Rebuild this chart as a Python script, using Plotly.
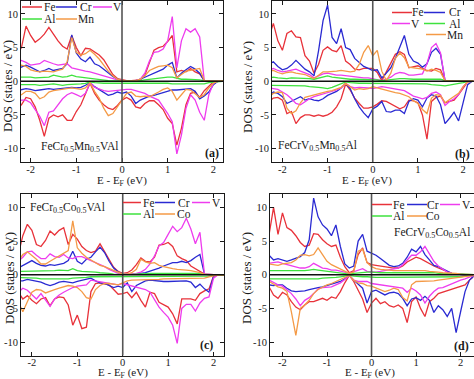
import plotly.graph_objects as go

W, H = 474, 379

# Energy grid (E - E_F, eV)
E = [-2.3, -2.2, -2.1, -2.0, -1.9, -1.8, -1.7, -1.6, -1.5, -1.4,
     -1.3, -1.2, -1.1, -1.0, -0.9, -0.8, -0.7, -0.6, -0.5, -0.4,
     -0.3, -0.2, -0.1, 0.0, 0.1, 0.2, 0.3, 0.4, 0.5, 0.6,
     0.7, 0.8, 0.9, 1.0, 1.1, 1.2, 1.3, 1.4, 1.5, 1.6,
     1.7, 1.8, 1.9, 2.0, 2.1, 2.2, 2.3]

# ---------------- (a) FeCr0.5Mn0.5VAl ----------------
a_fe_up = [4.0, 5.0, 8.2, 6.8, 5.8, 6.3, 7.0, 8.0, 7.0, 6.0,
           5.2, 4.8, 6.8, 5.0, 3.8, 4.9, 4.8, 4.3, 3.9, 3.2,
           2.0, 1.0, 0.4, 0.2, 0.1, 0.1, 0.1, 0.2, 0.9, 2.8,
           4.6, 5.0, 5.2, 5.9, 6.8, 1.4, 1.6, 1.4, 1.9, 1.4,
           1.1, 0.1, 0.05, 0.0, 0.0, 0.0, 0.0]
a_cr_up = [1.8, 2.1, 2.4, 2.1, 1.7, 1.4, 1.6, 1.9, 1.6, 1.7,
           1.9, 2.6, 6.9, 4.2, 3.3, 2.9, 3.6, 2.6, 2.3, 1.8,
           1.2, 0.7, 0.3, 0.1, 0.05, 0.05, 0.1, 0.3, 0.6, 0.9,
           1.2, 1.5, 1.8, 2.4, 2.8, 0.5, 1.2, 1.7, 2.2, 1.8,
           1.2, 0.05, 0.0, 0.0, 0.0, 0.0, 0.0]
a_v_up = [2.6, 3.1, 2.8, 2.4, 2.5, 2.6, 3.1, 2.8, 2.6, 2.4,
          2.5, 2.6, 2.0, 1.8, 1.7, 1.5, 1.4, 1.2, 0.9, 0.7,
          0.5, 0.3, 0.2, 0.1, 0.05, 0.05, 0.1, 0.3, 1.2, 3.0,
          4.3, 4.4, 4.8, 6.0, 9.6, 2.0, 6.0, 7.8, 7.3, 7.8,
          6.6, 0.1, 0.0, 0.0, 0.0, 0.0, 0.0]
a_al_up = [0.6, 0.6, 0.7, 0.6, 0.5, 0.5, 0.6, 0.6, 0.9, 0.7,
           0.6, 0.7, 0.9, 0.7, 0.6, 0.6, 0.5, 0.4, 0.3, 0.2,
           0.1, 0.05, 0.05, 0.05, 0.05, 0.05, 0.05, 0.1, 0.2, 0.3,
           0.4, 0.5, 0.5, 0.6, 0.6, 0.4, 0.3, 0.3, 0.3, 0.3,
           0.2, 0.05, 0.0, 0.0, 0.0, 0.0, 0.0]
a_mn_up = [2.0, 2.4, 2.2, 1.7, 1.5, 1.4, 1.5, 1.5, 1.4, 1.6,
           1.8, 2.9, 6.5, 4.3, 3.9, 4.1, 4.6, 4.0, 3.3, 2.4,
           1.5, 0.8, 0.3, 0.1, 0.05, 0.05, 0.1, 0.3, 0.8, 1.6,
           1.9, 2.2, 2.3, 2.4, 2.0, 0.5, 1.0, 1.5, 1.6, 1.8,
           1.9, 0.1, 0.0, 0.0, 0.0, 0.0, 0.0]
a_fe_dn = [-4.0, -3.5, -2.4, -2.6, -3.8, -5.8, -8.2, -5.5, -5.0, -5.3,
           -5.0, -5.8, -5.8, -4.5, -3.5, -2.0, -0.3, -1.8, -2.8, -3.5,
           -4.0, -4.2, -3.6, -2.8, -2.4, -2.8, -3.8, -4.0, -3.3, -2.9,
           -2.9, -3.5, -4.2, -5.5, -6.3, -9.5, -7.0, -3.5, -1.8, -1.6,
           -2.4, -1.4, -0.7, -0.1, 0.0, 0.0, 0.0]
a_cr_dn = [-1.4, -1.3, -1.1, -1.2, -1.4, -1.3, -1.2, -1.1, -1.2, -1.1,
           -1.0, -0.9, -0.9, -1.0, -0.9, -0.6, -0.2, -0.8, -1.2, -1.6,
           -2.1, -1.9, -1.6, -1.8, -1.6, -2.2, -3.3, -2.8, -2.5, -2.2,
           -2.1, -1.9, -1.8, -1.5, -1.3, -1.3, -1.2, -1.1, -1.1, -1.5,
           -2.6, -2.2, -1.6, -0.5, 0.0, 0.0, 0.0]
a_v_dn = [-3.0, -2.8, -2.8, -3.2, -4.2, -5.2, -6.6, -4.6, -4.4, -3.5,
          -2.6, -2.0, -1.7, -2.0, -2.3, -1.8, -0.2, -0.9, -1.2, -1.4,
          -1.5, -1.4, -1.3, -1.3, -1.2, -1.2, -1.4, -1.6, -1.8, -2.2,
          -2.5, -2.8, -3.8, -4.8, -6.0, -10.8, -8.0, -4.0, -2.0, -2.8,
          -4.6, -5.8, -2.0, -0.3, 0.0, 0.0, 0.0]
a_al_dn = [-0.5, -0.5, -0.5, -0.4, -0.5, -0.6, -0.5, -0.5, -0.4, -0.5,
           -0.6, -0.5, -0.5, -0.4, -0.4, -0.3, -0.1, -0.2, -0.3, -0.3,
           -0.3, -0.3, -0.3, -0.3, -0.2, -0.2, -0.3, -0.3, -0.3, -0.3,
           -0.3, -0.3, -0.3, -0.3, -0.4, -0.4, -0.4, -0.4, -0.5, -0.5,
           -0.5, -0.4, -0.2, -0.1, 0.0, 0.0, 0.0]
a_mn_dn = [-2.3, -2.0, -1.5, -1.5, -1.8, -2.6, -2.3, -1.6, -1.4, -1.3,
           -1.2, -1.1, -1.0, -1.1, -1.2, -1.0, -0.2, -1.5, -2.5, -4.0,
           -5.1, -4.8, -3.8, -2.8, -1.8, -1.6, -2.2, -2.3, -2.2, -2.3,
           -2.0, -1.6, -1.2, -1.0, -1.5, -2.8, -2.0, -1.2, -1.3, -1.8,
           -2.4, -2.0, -1.0, -0.3, 0.0, 0.0, 0.0]

# ---------------- (b) FeCrV0.5Mn0.5Al ----------------
b_fe_up = [6.5, 8.6, 6.0, 4.6, 7.1, 7.5, 6.6, 6.5, 3.8, 3.0,
           1.2, 2.5, 4.6, 5.1, 4.6, 4.4, 5.3, 3.0, 2.5, 1.8,
           1.7, 1.9, 1.9, 1.9, 1.3, 0.1, 1.4, 2.8, 4.0, 4.4,
           4.0, 2.0, 2.2, 2.3, 1.9, 1.6, 1.5, 1.9, 1.7, 0.1,
           0.0, 0.0, 0.0, 0.0, 0.0, 0.0, 0.0]
b_cr_up = [2.5, 2.9, 2.2, 1.7, 1.9, 2.4, 3.1, 2.4, 1.8, 1.4,
           0.8, 4.5, 9.0, 11.3, 6.5, 5.6, 7.8, 5.0, 4.7, 3.4,
           2.8, 2.2, 1.9, 1.6, 1.7, 0.5, 1.2, 2.0, 3.4, 5.0,
           6.8, 4.0, 3.0, 2.7, 2.1, 2.6, 4.3, 4.9, 4.0, 0.1,
           0.0, 0.0, 0.0, 0.0, 0.0, 0.0, 0.0]
b_v_up = [1.6, 1.9, 1.6, 1.4, 1.5, 1.7, 1.8, 1.5, 1.3, 1.0,
          0.5, 0.8, 1.1, 1.2, 1.0, 0.9, 0.9, 0.8, 0.7, 0.6,
          0.6, 0.5, 0.5, 0.4, 0.3, 0.1, 0.3, 0.6, 1.1, 1.3,
          1.2, 0.9, 0.9, 1.0, 1.1, 2.6, 5.0, 5.6, 4.2, 0.1,
          0.0, 0.0, 0.0, 0.0, 0.0, 0.0, 0.0]
b_al_up = [0.5, 0.6, 0.5, 0.4, 0.4, 0.5, 0.5, 0.5, 0.4, 0.4,
           0.3, 0.5, 0.7, 0.8, 0.6, 0.5, 0.4, 0.4, 0.3, 0.3,
           0.3, 0.2, 0.2, 0.2, 0.2, 0.1, 0.2, 0.3, 0.3, 0.4,
           0.4, 0.3, 0.3, 0.3, 0.3, 0.3, 0.4, 0.4, 0.3, 0.1,
           0.0, 0.0, 0.0, 0.0, 0.0, 0.0, 0.0]
b_mn_up = [1.5, 1.6, 1.3, 1.1, 1.3, 1.4, 1.2, 1.1, 1.0, 0.7,
           0.4, 0.9, 1.4, 1.4, 1.4, 1.5, 1.6, 1.5, 1.4, 1.5,
           2.5, 4.3, 5.3, 3.8, 4.6, 1.5, 0.1, 1.2, 3.4, 4.2,
           3.5, 2.1, 2.0, 2.0, 1.8, 1.5, 1.8, 1.6, 1.3, 0.1,
           0.0, 0.0, 0.0, 0.0, 0.0, 0.0, 0.0]
b_fe_dn = [-3.0, -2.5, -2.4, -2.8, -4.8, -4.5, -6.3, -5.4, -5.0, -5.0,
           -5.2, -5.0, -5.2, -5.0, -4.6, -3.8, -2.6, -0.4, -1.3, -2.5,
           -3.3, -4.0, -4.0, -3.8, -3.4, -2.9, -3.0, -3.4, -3.8, -4.1,
           -3.8, -2.8, -2.9, -3.2, -5.0, -8.6, -3.0, -2.4, -2.2, -3.2,
           -3.0, -2.8, -2.0, -1.0, -0.1, 0.0, 0.0]
b_cr_dn = [-2.3, -1.6, -1.8, -2.3, -3.3, -3.0, -2.6, -2.3, -2.8, -2.6,
           -2.8, -2.9, -2.6, -2.1, -1.8, -1.5, -1.0, -0.3, -1.1, -2.6,
           -3.8, -4.7, -5.4, -4.1, -3.7, -3.0, -4.5, -4.6, -4.3, -4.3,
           -4.8, -3.0, -2.6, -2.8, -3.8, -2.5, -2.0, -2.2, -3.5, -6.3,
           -5.5, -4.6, -5.9, -3.0, -0.5, 0.0, 0.0]
b_v_dn = [-1.0, -1.1, -1.2, -1.6, -2.0, -2.6, -3.3, -3.5, -3.0, -2.6,
          -2.3, -2.1, -1.9, -1.8, -1.6, -1.3, -1.0, -0.3, -0.8, -1.0,
          -0.9, -0.9, -1.0, -1.1, -0.9, -0.8, -0.9, -1.0, -1.1, -1.2,
          -1.4, -1.8, -2.2, -2.4, -2.6, -2.4, -1.8, -1.6, -2.0, -3.6,
          -3.0, -2.6, -2.0, -0.8, -0.1, 0.0, 0.0]
b_al_dn = [-0.6, -0.6, -0.6, -0.6, -0.7, -0.7, -0.7, -0.7, -0.7, -0.8,
           -0.8, -0.9, -1.0, -1.1, -0.9, -0.6, -0.3, -0.1, -0.2, -0.3,
           -0.3, -0.3, -0.3, -0.3, -0.3, -0.3, -0.3, -0.3, -0.3, -0.3,
           -0.3, -0.4, -0.4, -0.4, -0.4, -0.4, -0.5, -0.5, -0.6, -0.7,
           -0.6, -0.5, -0.4, -0.2, -0.05, 0.0, 0.0]
b_mn_dn = [-2.3, -1.8, -1.6, -1.7, -4.0, -4.8, -4.4, -3.2, -2.4, -2.2,
           -2.0, -1.8, -1.6, -1.5, -1.4, -1.2, -0.9, -0.3, -0.8, -1.3,
           -1.1, -1.2, -1.1, -0.8, -1.0, -1.2, -1.4, -1.6, -1.7, -1.8,
           -2.0, -2.3, -2.9, -3.3, -4.2, -4.8, -2.5, -2.0, -2.1, -3.2,
           -2.7, -2.2, -1.8, -0.8, -0.1, 0.0, 0.0]

# ---------------- (c) FeCr0.5Co0.5VAl ----------------
c_fe_up = [3.0, 5.8, 7.5, 6.6, 4.5, 4.2, 5.1, 6.5, 5.9, 6.6,
           7.0, 4.5, 6.0, 5.3, 4.2, 3.6, 3.3, 3.5, 4.6, 3.5,
           2.2, 1.1, 0.5, 0.2, 0.3, 0.7, 1.5, 2.5, 2.0, 1.9,
           2.6, 4.4, 4.5, 4.8, 4.2, 2.8, 2.4, 2.1, 1.3, 0.9,
           0.6, 0.1, 0.0, 0.0, 0.0, 0.0, 0.0]
c_cr_up = [1.0, 1.4, 1.8, 2.1, 1.7, 1.4, 1.3, 1.5, 1.4, 1.5,
           1.7, 2.1, 3.5, 2.0, 1.6, 2.3, 2.6, 3.4, 4.1, 3.3,
           2.0, 1.0, 0.4, 0.1, 0.1, 0.1, 0.1, 0.2, 0.3, 0.5,
           0.8, 1.0, 1.3, 1.6, 1.8, 1.8, 2.0, 1.8, 2.1, 2.6,
           3.0, 0.1, 0.0, 0.0, 0.0, 0.0, 0.0]
c_v_up = [2.0, 2.6, 3.4, 3.5, 2.9, 2.4, 2.4, 3.1, 2.7, 2.6,
          3.0, 2.5, 2.4, 2.7, 2.7, 2.4, 2.2, 1.9, 1.6, 1.2,
          0.8, 0.5, 0.2, 0.1, 0.1, 0.1, 0.2, 0.4, 0.8, 1.6,
          2.8, 4.3, 4.8, 6.0, 7.2, 6.4, 7.0, 8.4, 6.8, 4.6,
          6.3, 0.1, 0.0, 0.0, 0.0, 0.0, 0.0]
c_al_up = [0.5, 0.5, 0.6, 0.5, 0.5, 0.5, 0.5, 0.6, 0.6, 0.7,
           0.6, 0.6, 0.9, 0.6, 0.5, 0.5, 0.5, 0.4, 0.3, 0.3,
           0.2, 0.1, 0.05, 0.05, 0.05, 0.05, 0.1, 0.2, 0.2, 0.2,
           0.2, 0.2, 0.3, 0.3, 0.3, 0.3, 0.2, 0.2, 0.2, 0.2,
           0.2, 0.05, 0.0, 0.0, 0.0, 0.0, 0.0]
c_co_up = [2.0, 3.0, 3.4, 2.9, 2.3, 1.6, 1.6, 2.0, 2.4, 2.8,
           3.2, 3.6, 8.0, 4.0, 3.2, 2.6, 2.2, 1.8, 1.4, 1.2,
           0.9, 0.6, 0.3, 0.1, 0.1, 0.3, 0.8, 2.3, 1.9, 1.7,
           1.8, 1.4, 1.2, 1.0, 0.9, 0.8, 0.8, 0.7, 0.6, 0.5,
           0.3, 0.1, 0.0, 0.0, 0.0, 0.0, 0.0]
c_fe_dn = [-2.6, -3.6, -3.1, -3.8, -4.3, -3.6, -3.4, -4.6, -3.6, -3.3,
           -3.4, -4.5, -7.5, -6.0, -8.0, -7.8, -2.5, -1.3, -1.2, -1.3,
           -1.5, -2.2, -2.9, -2.8, -2.6, -3.4, -2.6, -3.8, -4.8, -2.6,
           -2.8, -4.1, -4.5, -4.8, -5.8, -7.3, -3.6, -3.6, -3.6, -3.8,
           -2.8, -2.4, -2.1, -0.2, 0.0, 0.0, 0.0]
c_cr_dn = [-0.9, -0.9, -0.7, -0.8, -1.0, -1.1, -1.4, -1.6, -1.4, -1.1,
           -1.0, -1.1, -1.2, -1.0, -0.8, -0.6, -0.5, -0.9, -1.2, -1.3,
           -1.6, -1.9, -1.7, -1.9, -1.2, -2.5, -1.6, -1.3, -0.9, -0.8,
           -0.9, -1.0, -1.0, -1.0, -1.0, -1.0, -1.0, -0.9, -1.1, -1.9,
           -1.4, -2.1, -2.6, -0.2, 0.0, 0.0, 0.0]
c_v_dn = [-2.6, -2.0, -2.3, -2.9, -3.6, -2.8, -3.8, -4.7, -3.6, -3.0,
          -2.6, -2.2, -1.9, -1.7, -1.6, -1.5, -0.8, -0.9, -1.0, -1.1,
          -1.3, -1.4, -1.5, -1.3, -1.5, -1.6, -1.8, -2.0, -2.2, -2.6,
          -3.8, -4.8, -5.6, -6.3, -7.5, -10.2, -5.0, -4.4, -4.4, -5.4,
          -4.2, -3.5, -3.3, -0.5, 0.0, 0.0, 0.0]
c_al_dn = [-0.4, -0.4, -0.5, -0.5, -0.5, -0.6, -0.6, -0.6, -0.7, -0.6,
           -0.6, -0.6, -0.5, -0.5, -0.4, -0.4, -0.3, -0.3, -0.3, -0.3,
           -0.3, -0.3, -0.3, -0.2, -0.2, -0.2, -0.2, -0.2, -0.2, -0.3,
           -0.3, -0.3, -0.3, -0.3, -0.3, -0.3, -0.3, -0.3, -0.3, -0.3,
           -0.3, -0.3, -0.2, -0.1, 0.0, 0.0, 0.0]
c_co_dn = [-4.0, -5.5, -4.0, -2.6, -2.2, -2.3, -2.7, -2.4, -2.2, -2.0,
           -1.8, -1.6, -1.7, -1.9, -2.5, -3.4, -3.6, -2.2, -1.6, -1.3,
           -1.3, -1.4, -1.5, -1.2, -0.9, -0.8, -0.8, -0.8, -0.7, -0.7,
           -0.7, -0.7, -0.6, -0.6, -0.6, -0.6, -0.6, -0.6, -0.6, -0.6,
           -0.5, -0.5, -0.3, -0.1, 0.0, 0.0, 0.0]

# ---------------- (d) FeCrV0.5Co0.5Al ----------------
d_fe_up = [6.0, 10.0, 6.0, 9.2, 7.0, 6.6, 5.8, 4.8, 4.2, 4.4,
           6.1, 6.0, 5.2, 4.6, 4.2, 4.4, 2.6, 1.2, 0.3, 0.6,
           3.0, 4.0, 1.8, 1.5, 1.4, 1.3, 1.1, 1.0, 1.0, 1.0,
           1.3, 1.9, 2.3, 2.6, 2.4, 2.0, 1.7, 1.3, 1.0, 0.7,
           0.4, 0.2, 0.1, 0.0, 0.0, 0.0, 0.0]
d_cr_up = [2.9, 2.2, 2.4, 2.2, 2.0, 2.2, 2.4, 2.7, 3.3, 5.2,
           11.4, 8.6, 7.4, 6.8, 5.8, 7.4, 4.2, 1.6, 1.0, 1.3,
           5.0, 6.0, 3.5, 3.2, 2.9, 2.4, 1.9, 1.4, 1.2, 1.3,
           1.7, 2.6, 3.8, 3.4, 4.2, 3.0, 2.2, 1.4, 1.2, 0.9,
           0.5, 0.2, 0.1, 0.0, 0.0, 0.0, 0.0]
d_v_up = [1.7, 1.8, 1.9, 1.7, 1.5, 1.4, 1.2, 1.0, 1.0, 1.2,
          1.7, 1.3, 1.0, 0.9, 0.7, 0.7, 0.6, 0.4, 0.2, 0.4,
          0.7, 0.9, 0.5, 0.4, 0.4, 0.5, 0.6, 0.7, 0.9, 1.0,
          1.5, 2.2, 2.9, 2.9, 3.4, 4.2, 3.2, 2.0, 1.3, 0.9,
          0.4, 0.2, 0.1, 0.0, 0.0, 0.0, 0.0]
d_al_up = [0.6, 0.6, 0.6, 0.6, 0.5, 0.5, 0.5, 0.6, 0.6, 0.7,
           0.8, 0.7, 0.6, 0.5, 0.5, 0.4, 0.3, 0.2, 0.1, 0.2,
           0.3, 0.4, 0.4, 0.4, 0.3, 0.3, 0.3, 0.3, 0.3, 0.3,
           0.3, 0.4, 0.4, 0.4, 0.4, 0.3, 0.3, 0.3, 0.2, 0.2,
           0.2, 0.1, 0.1, 0.1, 0.1, 0.05, 0.0]
d_co_up = [1.6, 1.5, 1.4, 1.6, 1.7, 1.8, 2.2, 2.9, 3.0, 2.8,
           3.0, 4.0, 3.0, 2.0, 1.5, 1.2, 0.8, 0.5, 0.2, 0.4,
           3.5, 3.8, 1.8, 1.2, 0.9, 0.8, 0.7, 0.6, 0.6, 0.6,
           0.6, 0.7, 0.7, 0.7, 0.6, 0.6, 0.5, 0.5, 0.4, 0.3,
           0.3, 0.2, 0.2, 0.1, 0.1, 0.0, 0.0]
d_fe_dn = [-1.8, -3.0, -3.5, -2.6, -3.0, -4.0, -4.8, -5.2, -4.5, -4.0,
           -4.0, -3.7, -3.5, -3.8, -3.3, -3.5, -2.5, -1.2, -0.1, -1.0,
           -2.3, -3.6, -5.6, -4.2, -3.5, -4.3, -4.0, -4.6, -4.8, -4.5,
           -5.0, -7.1, -4.0, -3.3, -5.0, -6.2, -4.0, -3.5, -2.8, -2.6,
           -2.4, -2.2, -2.0, -1.8, -1.5, -0.8, -0.2]
d_cr_dn = [-1.5, -1.6, -1.5, -1.5, -2.0, -2.4, -2.5, -2.5, -2.4, -2.2,
           -2.0, -1.9, -1.8, -1.6, -1.5, -1.3, -1.0, -0.6, -0.1, -0.8,
           -1.4, -2.0, -4.2, -2.5, -2.3, -2.6, -3.0, -2.7, -2.6, -2.8,
           -3.5, -4.6, -3.6, -3.4, -3.8, -3.2, -3.8, -5.6, -4.6, -5.2,
           -6.2, -5.0, -8.6, -5.5, -2.5, -0.8, -0.2]
d_v_dn = [-0.8, -1.2, -1.5, -1.7, -2.2, -2.8, -3.6, -4.6, -3.8, -3.4,
          -2.8, -2.1, -1.9, -1.8, -1.8, -1.5, -1.2, -0.7, -0.1, -0.8,
          -1.0, -1.0, -1.0, -1.3, -1.4, -1.5, -1.7, -1.7, -1.8, -1.9,
          -2.0, -2.6, -2.0, -2.4, -3.0, -4.2, -3.2, -2.5, -2.0, -1.9,
          -1.6, -1.3, -1.0, -0.8, -0.6, -0.3, -0.1]
d_al_dn = [-0.6, -0.6, -0.6, -0.6, -0.7, -0.7, -0.7, -0.7, -0.7, -0.6,
           -0.6, -0.6, -0.5, -0.5, -0.5, -0.4, -0.3, -0.2, -0.1, -0.2,
           -0.3, -0.3, -0.3, -0.4, -0.4, -0.4, -0.4, -0.4, -0.4, -0.4,
           -0.4, -0.4, -0.4, -0.4, -0.4, -0.4, -0.4, -0.4, -0.4, -0.4,
           -0.4, -0.3, -0.3, -0.3, -0.2, -0.1, 0.0]
d_co_dn = [-1.0, -1.4, -1.8, -2.0, -2.5, -5.5, -9.0, -5.0, -4.5, -3.8,
           -2.8, -2.2, -1.8, -1.5, -1.3, -1.0, -0.7, -0.4, -0.1, -0.8,
           -1.2, -1.3, -1.6, -1.7, -2.0, -2.2, -2.5, -2.3, -2.0, -2.2,
           -3.4, -3.9, -1.5, -1.0, -1.0, -1.0, -1.0, -0.9, -0.8, -0.7,
           -0.6, -0.5, -0.4, -0.4, -0.3, -0.2, -0.1]

compounds = ["FeCr<sub>0.5</sub>Mn<sub>0.5</sub>VAl",
             "FeCrV<sub>0.5</sub>Mn<sub>0.5</sub>Al",
             "FeCr<sub>0.5</sub>Co<sub>0.5</sub>VAl",
             "FeCrV<sub>0.5</sub>Co<sub>0.5</sub>Al"]
panel_tags = ["(a)", "(b)", "(c)", "(d)"]
x_tick_vals = [-2, -1, 0, 1, 2]
x_tick_text = ["-2", "-1", "0", "1", "2"]
y_tick_vals = [-10, -5, 0, 5, 10]
y_tick_text = ["-10", "-5", "0", "5", "10"]

COLORS = {"Fe": "#e8323a", "Cr": "#2a2ad2", "V": "#ee3cee",
          "Al": "#3ee23e", "Mn": "#f49a46", "Co": "#f49a46"}

panels = [
    [("Fe", a_fe_up, a_fe_dn), ("Cr", a_cr_up, a_cr_dn), ("V", a_v_up, a_v_dn),
     ("Al", a_al_up, a_al_dn), ("Mn", a_mn_up, a_mn_dn)],
    [("Fe", b_fe_up, b_fe_dn), ("Cr", b_cr_up, b_cr_dn), ("V", b_v_up, b_v_dn),
     ("Al", b_al_up, b_al_dn), ("Mn", b_mn_up, b_mn_dn)],
    [("Fe", c_fe_up, c_fe_dn), ("Cr", c_cr_up, c_cr_dn), ("V", c_v_up, c_v_dn),
     ("Al", c_al_up, c_al_dn), ("Co", c_co_up, c_co_dn)],
    [("Fe", d_fe_up, d_fe_dn), ("Cr", d_cr_up, d_cr_dn), ("V", d_v_up, d_v_dn),
     ("Al", d_al_up, d_al_dn), ("Co", d_co_up, d_co_dn)],
]

for p in panels:
    for name, up, dn in p:
        assert len(up) == len(E) and len(dn) == len(E), (name, len(up), len(dn))

def px(x):
    return x / W

def py(y):
    return 1 - y / H

# panel frames in pixels: (left, right, top, bottom), x range
frames = [
    (21, 223, 0.5, 162, [-2.21, 2.21]),
    (272, 473.5, 0.5, 162, [-2.23, 2.23]),
    (21, 224, 194, 355.5, [-2.24, 2.23]),
    (270, 473.5, 194, 355.5, [-2.28, 2.29]),
]

SERIF = "Liberation Serif"
INK = "#1a1a1a"

fig = go.Figure()
layout = dict(width=W, height=H, margin=dict(l=0, r=0, t=0, b=0),
              paper_bgcolor="white", plot_bgcolor="white", showlegend=False,
              font=dict(family=SERIF, color=INK))
shapes = []
annotations = []

def note(text, x, y, size, angle=0):
    return dict(text=text, x=px(x), y=py(y), xref="paper", yref="paper",
                xanchor="center", yanchor="middle", showarrow=False, textangle=angle,
                font=dict(size=size, family=SERIF, color=INK))

for i, (p, fr) in enumerate(zip(panels, frames)):
    k = "" if i == 0 else str(i + 1)
    xa, ya = "x" + k, "y" + k
    l, r, t, b, xr = fr
    for name, up, dn in p:
        for vals in (up, dn):
            fig.add_trace(go.Scatter(x=E, y=vals, mode="lines", xaxis=xa, yaxis=ya,
                                     line=dict(color=COLORS[name], width=1.3),
                                     hoverinfo="skip"))
    common = dict(showline=True, linecolor=INK, linewidth=1, mirror="allticks",
                  ticks="inside", ticklen=4, tickwidth=1, tickcolor=INK,
                  showgrid=False, zeroline=False,
                  tickfont=dict(family=SERIF, size=10.5, color=INK))
    layout["xaxis" + k] = dict(common, domain=[px(l), px(r)], range=xr, anchor=ya,
                               tickvals=x_tick_vals, ticktext=x_tick_text,
                               ticklabelstandoff=-3)
    layout["yaxis" + k] = dict(common, domain=[py(b), py(t)], range=[-12, 12], anchor=xa,
                               tickvals=y_tick_vals, ticktext=y_tick_text)
    # reference lines at E_F and DOS = 0
    shapes.append(dict(type="line", xref=xa, yref=ya + " domain", x0=0, x1=0, y0=0, y1=1,
                       line=dict(color="#555555", width=1.6)))
    shapes.append(dict(type="line", xref=xa + " domain", yref=ya, x0=0, x1=1, y0=0, y1=0,
                       line=dict(color="#111111", width=1.5)))

# axis titles
ytitle_pos = [(8, 86), (247, 87), (9, 278), (246, 278)]
xtitle_pos = [(122, 180.5), (367, 181.5), (123, 373), (370, 373)]
for (x, y) in ytitle_pos:
    annotations.append(note("DOS (states / eV)", x, y, 13, -90))
for (x, y) in xtitle_pos:
    annotations.append(note("E - E<sub>F</sub> (eV)", x, y, 11))

# compound labels and panel tags
comp_pos = [(79, 147), (317, 146), (67, 208), (432, 233)]
tag_pos = [(212, 153), (462, 154), (206, 345), (461, 346)]
for txt, (x, y) in zip(compounds, comp_pos):
    annotations.append(note(txt, x, y, 11.5))
for txt, (x, y) in zip(panel_tags, tag_pos):
    annotations.append(note("<b>" + txt + "</b>", x, y, 12))

# legends: (label, line x0, line x1, text centre x, row y)
legends = [
    [("Fe", 22, 42, 49.5, 7), ("Cr", 56, 77, 86, 7), ("V", 93, 112, 117, 7),
     ("Al", 22, 42, 49.5, 19), ("Mn", 56, 77, 86, 19)],
    [("Fe", 392, 412, 418, 12.5), ("Cr", 424, 445, 455, 12.5),
     ("V", 392, 410, 415, 23.5), ("Al", 424, 445, 455, 23.5),
     ("Mn", 426, 446, 455, 34.5)],
    [("Fe", 123, 141, 149, 202.5), ("Cr", 155, 175, 184, 202.5), ("V", 192, 210, 216, 202.5),
     ("Al", 123, 141, 149, 214), ("Co", 155, 175, 184, 214)],
    [("Fe", 372, 392, 399, 204.5), ("Cr", 407, 427, 433, 204.5), ("V", 440, 460, 466, 204.5),
     ("Al", 372, 392, 399, 216), ("Co", 407, 427, 433, 216)],
]
for leg in legends:
    for name, x0, x1, xt, y in leg:
        shapes.append(dict(type="line", xref="paper", yref="paper", x0=px(x0), x1=px(x1),
                           y0=py(y), y1=py(y), line=dict(color=COLORS[name], width=1.5)))
        annotations.append(note(name, xt, y, 11.5))

layout["shapes"] = shapes
layout["annotations"] = annotations
fig.update_layout(**layout)
fig.write_html("out.html", config={"displayModeBar": False},
               post_script="document.body.style.margin='0px';document.body.style.overflow='hidden';")
